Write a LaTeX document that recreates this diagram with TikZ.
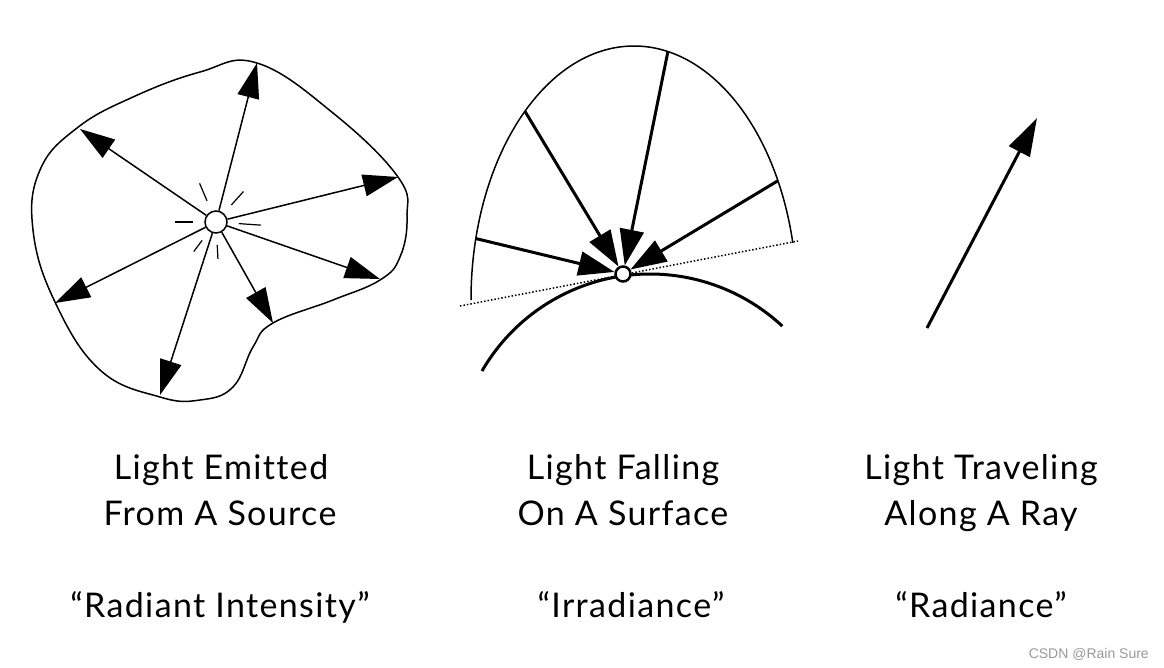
\documentclass[tikz,border=0pt]{standalone}
\usepackage{fontspec}
\setmainfont{Lato}[LetterSpace=4, Ligatures=NoCommon]
\newfontfamily\markfont{Liberation Sans}
\usepackage{tikz}
\usetikzlibrary{arrows.meta,calc}

\tikzset{
  caption/.style={font=\fontsize{34}{40}\selectfont, anchor=base, inner sep=0pt},
  emitray/.style={line width=1.5pt, -{Triangle[length=35pt,width=22pt]}},
  fallray/.style={line width=3pt, -{Triangle[length=36pt,width=24pt]}},
  dot/.style={circle, draw, fill=white, inner sep=0pt},
}

\begin{document}
\begin{tikzpicture}[x=1pt,y=-1pt]
        \useasboundingbox (0,0) rectangle (1164,667);

        % source inside a blob
        \draw[line width=1.5pt] plot[smooth cycle, tension=0.7] coordinates {(257,63) (333,113) (398,177) (407,217) (400,257) (380,280) (333,300) (273,323) (253,347) (233,387) (200,400) (160,397) (100,370) (55,302) (33,230) (40,170) (77,128) (133,97) (200,72)};
        \node[dot, line width=1.5pt, minimum size=22pt] (src) at (216,222) {};
        \coordinate (up) at (257,63);
        \coordinate (upleft) at (80,129);
        \coordinate (right) at (398,177);
        \coordinate (lowright) at (380,279);
        \coordinate (dent) at (273,323);
        \coordinate (down) at (160,395);
        \coordinate (lowleft) at (55,303);
        \foreach \t in {up,upleft,right,lowright,dent,down,lowleft}
            \draw[emitray] (src) -- (\t);
        \foreach \a/\r in {113/42, 48/41, 180/41, -4/45, 233/37, -87/37}
            \draw[line width=1.2pt] ([shift={(\a:23pt)}]src.center) -- ([shift={(\a:\r pt)}]src.center);

        % light onto a surface
        \coordinate (dome) at (634,300);
        \draw[line width=1.5pt] ($(dome)+(180:163pt and 254pt)$) arc[start angle=180, end angle=13, x radius=163pt, y radius=254pt];
        \draw[line width=1.5pt, dash pattern=on 1.5pt off 2pt] (460,306) -- (798,241);
        \draw[line width=3pt] (482,371) arc[start angle=150, end angle=47, radius=194pt];
        \node[dot, line width=2.5pt, minimum size=15pt] (pt) at (623,274) {};
        \foreach \a in {166,132,78,28}
            \draw[fallray] ($(dome)+(\a:163pt and 254pt)$) -- (pt);

        % a single ray
        \coordinate (tail) at (927,328);
        \coordinate (head) at (1037,118);
        \draw[line width=3pt, -{Triangle[length=38pt,width=23pt]}] (tail) -- (head);

        \node[caption] (emitA) at (221,479) {Light Emitted};
        \node[caption] (emitB) at (220,525) {From A Source};
        \node[caption] (emitQ) at (220,617) {“Radiant Intensity”};
        \node[caption] (fallA) at (623,479) {Light Falling};
        \node[caption] (fallB) at (623,525) {On A Surface};
        \node[caption] (fallQ) at (631,617) {“Irradiance”};
        \node[caption] (rayA) at (981,479) {Light Traveling};
        \node[caption] (rayB) at (981,525) {Along A Ray};
        \node[caption] (rayQ) at (981,617) {“Radiance”};

        \node[font=\fontsize{14}{16}\selectfont\markfont, text=black!40, anchor=base east, inner sep=0pt] (mark) at (1149,658) {CSDN @Rain Sure};
    \end{tikzpicture}
\end{document}
